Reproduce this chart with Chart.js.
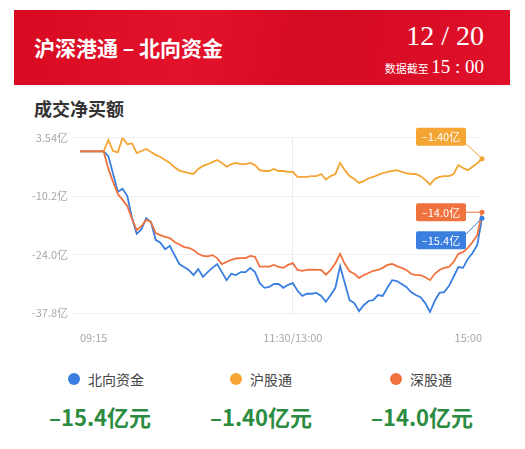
<!DOCTYPE html>
<html lang="zh">
<head>
  <meta charset="UTF-8">
  <title>沪深港通 - 北向资金</title>
  <script src="https://cdn.jsdelivr.net/npm/chart.js"></script>
  <style>
    body {
      margin: 0;
      width: 525px;
      height: 449px;
      background: #fff;
      font-family: 'Noto Sans CJK SC', 'Noto Sans', sans-serif;
      position: relative;
      overflow: hidden;
    }
    #banner {
      position: absolute;
      left: 14px; top: 10px;
      width: 496px; height: 75px;
      background: linear-gradient(100deg, #d70a21 0%, #e3122b 35%, #d40b22 60%, #e0102a 100%);
      color: #fff;
    }
    #title { position: absolute; left: 20px; top: 22px; font-size: 21px; font-weight: bold; }
    #date { position: absolute; right: 26px; top: 10px; font-family: 'Liberation Serif', serif; font-size: 28px; }
    #asof { position: absolute; right: 26px; top: 46px; font-size: 11px; }
    #asof span { font-family: 'Liberation Serif', serif; font-size: 19px; }
    #sub { position: absolute; left: 34px; top: 95px; font-size: 18px; font-weight: bold; color: #333; }
    #wrap { position: absolute; left: 0; top: 120px; width: 500px; height: 235px; }
    .leg { position: absolute; top: 369px; font-size: 14px; color: #444; }
    .leg i { position: absolute; left: -20px; top: 4px; width: 12px; height: 12px; border-radius: 50%; }
    .val { position: absolute; top: 400px; width: 160px; text-align: center; font-size: 22px; font-weight: bold; color: #2b8c3f; }
  </style>
</head>
<body>
  <div id="banner">
    <div id="title">沪深港通 – 北向资金</div>
    <div id="date">12 / 20</div>
    <div id="asof">数据截至 <span>15 : 00</span></div>
  </div>
  <div id="sub">成交净买额</div>
  <div id="wrap"><canvas id="chart"></canvas></div>
  <div id="legend"></div>
  <script>
    // minutes since 09:15 (11:30 and 13:00 share minute 135)
    const minutes = [0,3,6,9,12,15,18,21,24,27,30,33,36,39,42,45,48,51,54,57,60,63,66,69,72,75,78,81,84,87,
      90,93,96,99,102,105,108,111,114,117,120,123,126,129,132,135,138,141,144,147,150,153,156,159,162,165,168,171,174,177,
      180,183,186,189,192,195,198,201,204,207,210,213,216,219,222,225,228,231,234,237,240,243,246,249,252,255];

    const northbound = [0.3,0.3,0.3,0.3,0.3,0.3,-0.8,-5.0,-9.2,-8.5,-10.2,-15.4,-19.1,-18.0,-15.4,-16.3,-20.5,-21.2,-22.7,-21.9,
      -24.1,-26.2,-26.9,-27.6,-28.8,-27.4,-29.2,-28.1,-27.1,-26.2,-28.1,-30.0,-28.5,-28.8,-28.1,-28.1,-27.1,-28.1,-30.7,-31.8,
      -31.6,-30.9,-30.9,-31.8,-31.1,-30.7,-32.5,-33.7,-33.2,-33.2,-33.0,-33.7,-35.1,-33.5,-31.8,-26.7,-30.7,-34.7,-35.4,-37.3,
      -35.9,-34.9,-34.7,-33.5,-33.7,-31.8,-30.0,-30.2,-30.9,-31.6,-32.8,-33.5,-34.0,-35.4,-37.5,-34.9,-33.0,-32.8,-31.4,-29.2,
      -26.9,-27.1,-25.0,-23.6,-21.7,-15.4];
    const shanghai = [0.3,0.3,0.3,0.3,0.3,0.3,3.0,0.4,0.1,3.54,2.0,2.2,-0.1,0.4,0.9,0.2,-0.5,-1.0,-1.7,-2.4,
      -3.4,-4.2,-4.5,-4.8,-5.0,-3.8,-3.1,-2.7,-2.2,-1.7,-2.4,-3.3,-2.7,-2.4,-2.7,-2.7,-2.4,-2.9,-4.1,-4.3,
      -4.3,-3.8,-4.3,-4.3,-4.5,-4.5,-5.7,-5.7,-5.7,-5.5,-5.5,-5.0,-6.3,-5.5,-5.0,-2.4,-4.1,-5.5,-6.2,-7.1,
      -6.7,-6.0,-5.7,-5.2,-4.8,-4.5,-4.3,-4.1,-4.5,-4.8,-5.0,-5.0,-5.5,-6.4,-7.5,-6.2,-5.7,-5.5,-5.5,-5.0,
      -2.9,-3.6,-4.1,-3.3,-2.5,-1.40];
    const shenzhen = [0.3,0.3,0.3,0.3,0.3,0.3,-3.8,-6.9,-9.7,-11.1,-12.5,-15.6,-18.2,-17.3,-15.8,-16.3,-18.9,-19.4,-19.8,-20.1,
      -21.0,-21.6,-22.2,-22.4,-22.9,-23.8,-24.3,-24.4,-24.1,-24.8,-26.2,-25.7,-25.2,-24.9,-24.8,-24.8,-24.3,-24.5,-26.8,-26.8,
      -26.8,-26.4,-26.9,-27.1,-26.4,-26.0,-27.6,-27.8,-27.6,-27.5,-27.6,-27.6,-28.7,-27.6,-26.0,-23.8,-26.2,-27.9,-28.5,-29.5,
      -28.8,-28.3,-27.8,-27.6,-27.1,-26.4,-26.2,-26.7,-27.1,-27.6,-28.5,-28.8,-28.8,-29.3,-30.0,-28.5,-27.6,-27.1,-26.9,-25.7,
      -23.8,-23.4,-22.4,-21.0,-19.4,-14.0];

    const seriesNames = ['北向资金', '沪股通', '深股通'];
    const seriesColors = ['#3a7fdf', '#f4a534', '#f0723e'];
    const endLabels = ['–15.4亿', '–1.40亿', '–14.0亿'];
    const totals = ['–15.4亿元', '–1.40亿元', '–14.0亿元'];

    const yTickValues = [3.54, -10.2, -24.0, -37.8];
    const yTickLabels = ['3.54亿', '-10.2亿', '-24.0亿', '-37.8亿'];
    const xTickValues = [0, 135, 255];
    const xTickLabels = ['09:15', '11:30/13:00', '15:00'];

    // legend + totals under the chart
    const legendLeft = [88, 250, 410];
    const valueLeft = [20, 181, 342];
    const legend = document.getElementById('legend');
    seriesNames.forEach((name, i) => {
      const d = document.createElement('div');
      d.className = 'leg';
      d.style.left = legendLeft[i] + 'px';
      d.innerHTML = `<i style="background:${seriesColors[i]}"></i>${name}`;
      legend.appendChild(d);
      const v = document.createElement('div');
      v.className = 'val';
      v.style.left = valueLeft[i] + 'px';
      v.textContent = totals[i];
      legend.appendChild(v);
    });

    const toPoints = arr => arr.map((v, i) => ({ x: minutes[i], y: v }));
    const seriesData = [northbound, shanghai, shenzhen];

    // boxes with the final value, hooked to the last point of each line
    const boxOffset = [22, -22, 0];
    const endLabelPlugin = {
      id: 'endLabels',
      afterDatasetsDraw(chart) {
        const ctx = chart.ctx;
        ctx.save();
        ctx.font = '11px "Noto Sans CJK SC", sans-serif';
        ctx.textAlign = 'center';
        ctx.textBaseline = 'middle';
        chart.data.datasets.forEach((ds, di) => {
          const s = ds.seriesIndex;
          const meta = chart.getDatasetMeta(di);
          const pt = meta.data[meta.data.length - 1];
          const w = 50, h = 18;
          const right = pt.x - 16;
          const cy = pt.y + boxOffset[s];
          ctx.strokeStyle = seriesColors[s];
          ctx.lineWidth = 1;
          ctx.beginPath();
          let ly = cy;
          if (boxOffset[s] > 0) ly = cy - h / 2 + 3;
          if (boxOffset[s] < 0) ly = cy + h / 2 - 2;
          ctx.moveTo(right, ly);
          ctx.lineTo(pt.x, pt.y);
          ctx.stroke();
          ctx.fillStyle = seriesColors[s];
          ctx.beginPath();
          ctx.roundRect(right - w, cy - h / 2, w, h, 2);
          ctx.fill();
          ctx.beginPath();
          ctx.arc(pt.x, pt.y, 2.5, 0, Math.PI * 2);
          ctx.fill();
          ctx.fillStyle = '#fff';
          ctx.fillText(endLabels[s], right - w / 2, cy + 0.5);
        });
        ctx.restore();
      }
    };

    // red drawn on top, then orange, then blue
    const drawOrder = [2, 1, 0];
    new Chart(document.getElementById('chart'), {
      type: 'line',
      data: {
        datasets: drawOrder.map(s => ({
          label: seriesNames[s],
          seriesIndex: s,
          data: toPoints(seriesData[s]),
          borderColor: seriesColors[s],
          borderWidth: 1.8,
          pointRadius: 0,
          tension: 0
        }))
      },
      options: {
        responsive: true,
        maintainAspectRatio: false,
        animation: false,
        layout: { padding: { top: 17.7, right: 17, left: 0, bottom: 0 } },
        plugins: { legend: { display: false }, tooltip: { enabled: false } },
        scales: {
          x: {
            type: 'linear',
            min: 0, max: 255,
            afterBuildTicks: sc => { sc.ticks = xTickValues.map(v => ({ value: v })); },
            afterFit: sc => { sc.height = 41.7; },
            border: { display: false },
            grid: {
              drawTicks: false,
              color: c => (c.index === 1 ? '#ececec' : 'rgba(0,0,0,0)')
            },
            ticks: {
              align: 'inner',
              maxRotation: 0,
              padding: 18,
              color: '#a8a8a8',
              font: { size: 11, family: "'Noto Sans CJK SC', sans-serif" },
              callback: (v, i) => xTickLabels[i]
            }
          },
          y: {
            min: -37.8, max: 3.54,
            afterBuildTicks: sc => { sc.ticks = yTickValues.map(v => ({ value: v })); },
            afterFit: sc => { sc.width = 80; },
            border: { display: false },
            grid: { color: '#efefef', tickColor: '#efefef', tickLength: 8 },
            ticks: {
              padding: 4,
              color: '#a8a8a8',
              font: { size: 11, family: "'Noto Sans CJK SC', sans-serif" },
              callback: (v, i) => yTickLabels[i]
            }
          }
        }
      },
      plugins: [endLabelPlugin]
    });
  </script>
</body>
</html>
